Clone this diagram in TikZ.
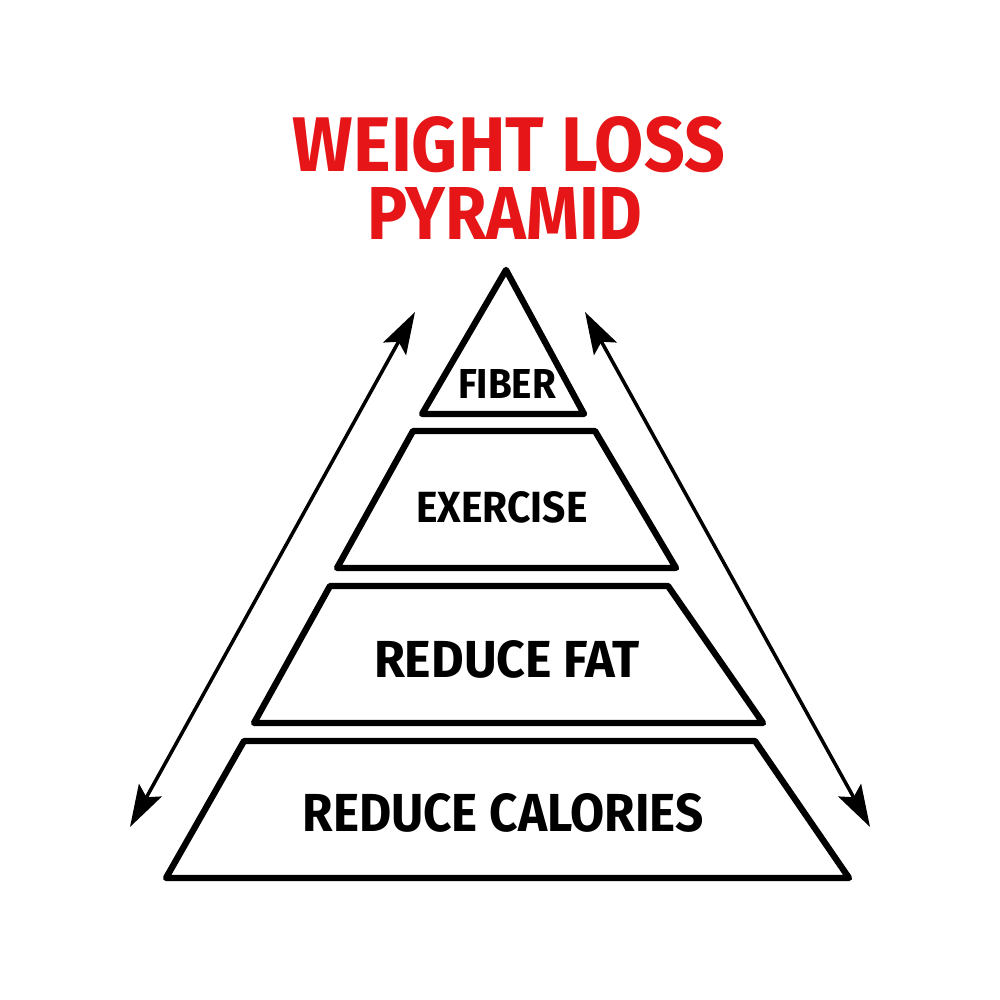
\documentclass[tikz,border=0pt]{standalone}
\usepackage{fontspec}
\setmainfont{Fira Sans}
\usepackage{xcolor}
\usetikzlibrary{arrows.meta}

\definecolor{titlered}{RGB}{230,22,24}
% caps text stretched to a given width and cap height
\newcommand{\capsbox}[3]{\resizebox{#1}{#2}{\bfseries #3}}

\begin{document}
\begin{tikzpicture}
\tikzset{levelbox/.style={draw=black,line width=1.8pt,line join=round}}
\tikzset{leveltext/.style={inner sep=0pt,text=black}}
\tikzset{titletext/.style={inner sep=0pt,text=titlered}}
\tikzset{sidearrow/.style={line width=1pt,>={Stealth[length=4.2mm,width=2.6mm,inset=0.8mm]},<->}}

\useasboundingbox (0,0) rectangle (10,10);

% title
\node[titletext] (titletop) at (5.09,8.55) {\capsbox{4.32cm}{0.55cm}{WEIGHT LOSS}};
\node[titletext] (titlebot) at (5.05,7.86) {\capsbox{2.75cm}{0.52cm}{PYRAMID}};

% pyramid levels
\draw[levelbox] (5.06,7.30) -- (5.84,5.86) -- (4.22,5.86) -- cycle;
\draw[levelbox] (4.13,5.69) -- (5.95,5.69) -- (6.76,4.32) -- (3.37,4.32) -- cycle;
\draw[levelbox] (3.30,4.14) -- (6.68,4.14) -- (7.63,2.77) -- (2.54,2.77) -- cycle;
\draw[levelbox] (2.44,2.59) -- (7.55,2.59) -- (8.49,1.22) -- (1.66,1.22) -- cycle;

\node[leveltext] (fiber) at (5.07,6.16) {\capsbox{0.98cm}{0.29cm}{FIBER}};
\node[leveltext] (exercise) at (5.02,4.93) {\capsbox{1.71cm}{0.31cm}{EXERCISE}};
\node[leveltext] (fat) at (5.07,3.41) {\capsbox{2.66cm}{0.37cm}{REDUCE FAT}};
\node[leveltext] (calories) at (5.03,1.87) {\capsbox{4.01cm}{0.38cm}{REDUCE CALORIES}};

% side arrows
\coordinate (lefttop) at (4.15,6.88);
\coordinate (leftbot) at (1.30,1.73);
\coordinate (righttop) at (5.85,6.88);
\coordinate (rightbot) at (8.70,1.73);
\draw[sidearrow] (leftbot) -- (lefttop);
\draw[sidearrow] (rightbot) -- (righttop);

\end{tikzpicture}
\end{document}
